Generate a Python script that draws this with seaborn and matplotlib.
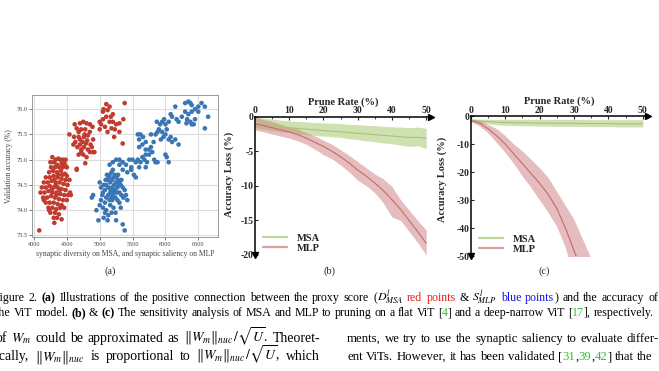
import matplotlib
matplotlib.use("Agg")
import matplotlib.pyplot as plt
import pandas as pd
import seaborn as sns

# ---- (a) scatter: proxy score vs validation accuracy ----
red_pts = [
    # top-right red group
    (5100, 76.1), (5150, 76.05), (5380, 76.12), (5050, 75.95), (5120, 75.98), (5200, 75.9),
    (5170, 75.85), (5100, 75.85), (5000, 75.75), (5020, 75.7), (5050, 75.8), (5150, 75.75),
    (5250, 75.7), (5300, 75.72), (5360, 75.8), (5180, 75.62), (5230, 75.6), (5300, 75.55),
    (5220, 75.45), (5000, 75.6), (5080, 75.65), (5120, 75.55), (5350, 75.32), (5200, 75.75),
    (5060, 76.0),
    # middle red group
    (4620, 75.7), (4700, 75.72), (4750, 75.75), (4800, 75.72), (4850, 75.7), (4890, 75.65),
    (4650, 75.62), (4720, 75.6), (4780, 75.6), (4850, 75.55), (4540, 75.5), (4610, 75.45),
    (4680, 75.45), (4760, 75.45), (4820, 75.48), (4900, 75.4), (4630, 75.35), (4700, 75.3),
    (4740, 75.35), (4790, 75.32), (4860, 75.3), (4660, 75.25), (4720, 75.2), (4760, 75.25),
    (4820, 75.2), (4900, 75.15), (4680, 75.1), (4750, 75.1), (4800, 75.05), (4850, 75.15),
    (4920, 75.15), (4700, 75.4), (4600, 75.3), (4780, 74.93), (4650, 74.8), (4720, 75.15),
    (4770, 75.5), (4680, 75.55), (4880, 75.25), (4810, 75.38),
    # dense lower-left red group
    (4280, 75.05), (4330, 75.0), (4370, 75.02), (4400, 75.0), (4440, 75.0), (4480, 75.0),
    (4300, 74.95), (4350, 74.9), (4420, 74.92), (4460, 74.95), (4260, 74.85), (4320, 74.85),
    (4380, 74.85), (4440, 74.85), (4500, 74.85), (4230, 74.75), (4290, 74.78), (4350, 74.75),
    (4410, 74.78), (4470, 74.72), (4180, 74.65), (4240, 74.65), (4300, 74.68), (4360, 74.65),
    (4420, 74.62), (4480, 74.6), (4540, 74.6), (4150, 74.55), (4210, 74.55), (4270, 74.58),
    (4330, 74.55), (4390, 74.55), (4450, 74.52), (4510, 74.5), (4120, 74.45), (4180, 74.45),
    (4240, 74.48), (4300, 74.45), (4360, 74.45), (4420, 74.42), (4480, 74.4), (4550, 74.35),
    (4100, 74.35), (4160, 74.35), (4220, 74.38), (4280, 74.35), (4340, 74.35), (4400, 74.32),
    (4460, 74.3), (4520, 74.3), (4140, 74.25), (4200, 74.25), (4260, 74.28), (4320, 74.25),
    (4380, 74.22), (4440, 74.2), (4500, 74.2), (4180, 74.15), (4240, 74.15), (4300, 74.15),
    (4360, 74.12), (4420, 74.1), (4220, 74.05), (4280, 74.05), (4340, 74.02), (4400, 74.05),
    (4460, 74.05), (4250, 73.95), (4320, 73.95), (4380, 73.92), (4300, 73.85), (4350, 73.85),
    (4310, 73.75), (4420, 73.82), (4230, 74.0), (4330, 74.5), (4370, 74.7), (4270, 74.4),
    (4390, 74.4), (4310, 74.6), (4250, 74.95), (4470, 74.9), (4150, 74.2), (4430, 74.7),
    (4500, 74.68), (4340, 74.3), (4080, 73.6), (4650, 74.82), (4560, 74.3),
]

blue_pts = [
    # dense lower blue group
    (4880, 74.25), (4900, 74.3), (4950, 74.0), (4980, 73.8), (5000, 74.1), (5020, 74.2),
    (5050, 74.35), (5080, 74.4), (5100, 74.5), (5120, 74.6), (5150, 74.7), (5180, 74.75),
    (5200, 74.8), (5230, 74.7), (5250, 74.65), (5280, 74.6), (5300, 74.55), (5320, 74.5),
    (5350, 74.45), (5380, 74.4), (5050, 74.05), (5080, 74.15), (5100, 74.25), (5130, 74.3),
    (5160, 74.35), (5190, 74.45), (5220, 74.5), (5250, 74.55), (5270, 74.45), (5300, 74.35),
    (5330, 74.3), (5360, 74.25), (5400, 74.3), (5060, 74.5), (5090, 74.6), (5130, 74.45),
    (5160, 74.55), (5190, 74.6), (5220, 74.35), (5240, 74.25), (5270, 74.2), (5300, 74.15),
    (5100, 74.0), (5130, 73.9), (5160, 74.1), (5190, 74.2), (5210, 74.05), (5240, 73.95),
    (5060, 73.85), (5120, 73.8), (5180, 73.95), (5150, 74.2), (5200, 74.3), (5230, 74.4),
    (5260, 74.35), (5020, 74.45), (5040, 74.3), (5110, 74.7), (5170, 74.4), (5280, 74.7),
    (5330, 74.6), (5350, 73.72), (5380, 73.6), (5250, 73.8), (5420, 74.2), (5000, 74.55),
    (5080, 73.95), (5210, 74.65), (5290, 74.5), (5320, 74.05), (5140, 74.65), (5180, 74.25),
    # diagonal band
    (5150, 74.9), (5200, 74.95), (5250, 75.0), (5300, 75.0), (5350, 74.95), (5400, 74.9),
    (5450, 75.0), (5500, 75.0), (5550, 74.95), (5580, 75.0), (5600, 74.85), (5420, 74.75),
    (5480, 74.8), (5520, 74.7), (5620, 74.95), (5650, 75.05), (5680, 75.0), (5700, 75.1),
    (5720, 74.95), (5750, 75.1), (5600, 75.25), (5650, 75.3), (5700, 75.35), (5750, 75.2),
    (5780, 75.25), (5800, 75.15), (5830, 75.0), (5850, 74.95), (5880, 74.95), (5600, 75.4),
    (5620, 75.5), (5580, 75.5), (5660, 75.45), (5700, 75.2), (5780, 75.5), (5820, 75.35),
    (5850, 75.5), (5880, 75.55), (5900, 75.6), (5920, 75.7), (5950, 75.75), (5980, 75.8),
    (6000, 75.7), (6050, 75.75), (6020, 75.6), (5950, 75.55), (5970, 75.45), (6000, 75.5),
    (6050, 75.4), (6080, 75.45), (6100, 75.35), (6150, 75.4), (6000, 75.1), (6020, 75.05),
    (6050, 74.95), (6200, 75.3), (6080, 75.9), (6100, 75.85), (5350, 74.8), (5480, 74.85),
    (5550, 74.65), (5300, 74.9), (5700, 74.85), (5870, 75.75), (5930, 75.4),
    # top-right blue group
    (6150, 76.05), (6300, 76.12), (6350, 76.15), (6380, 76.12), (6400, 76.08), (6450, 76.0),
    (6500, 76.05), (6550, 76.12), (6600, 76.05), (6300, 75.95), (6350, 75.9), (6400, 75.95),
    (6250, 75.85), (6330, 75.8), (6380, 75.75), (6450, 75.8), (6500, 75.95), (6320, 75.72),
    (6400, 75.7), (6430, 75.7), (6650, 75.85), (6600, 75.62), (6200, 75.75), (6170, 75.8),
]

# ---- (b) flat ViT ----
rate = [0, 2.5, 5, 7.5, 10, 12.5, 15, 17.5, 20, 22.5, 25, 27.5, 30, 32.5, 35, 37.5, 40, 42.5, 45, 47.5, 50]
b_msa = [-1.0, -1.15, -1.3, -1.45, -1.6, -1.7, -1.8, -1.9, -2.0, -2.1, -2.2, -2.3, -2.4, -2.5, -2.6, -2.7, -2.8, -2.9, -3.0, -3.0, -3.1]
b_msa_hi = [0.0, -0.2, -0.35, -0.5, -0.6, -0.7, -0.75, -0.85, -0.9, -0.95, -1.0, -1.1, -1.15, -1.25, -1.3, -1.4, -1.45, -1.5, -1.6, -1.5, -1.7]
b_msa_lo = [-1.6, -1.8, -2.0, -2.2, -2.3, -2.5, -2.6, -2.7, -2.8, -2.9, -3.0, -3.2, -3.3, -3.5, -3.6, -3.8, -3.9, -4.1, -4.3, -4.2, -4.6]
b_mlp = [-1.0, -1.3, -1.6, -1.9, -2.2, -2.6, -3.1, -3.7, -4.3, -5.0, -5.8, -6.7, -7.7, -8.6, -9.6, -10.7, -12.0, -13.4, -15.0, -16.6, -18.3]
b_mlp_hi = [-0.1, -0.4, -0.7, -1.1, -1.45, -1.8, -2.3, -2.8, -3.4, -4.0, -4.8, -5.6, -6.5, -7.4, -8.3, -9.0, -10.1, -12.0, -13.5, -15.0, -16.4]
b_mlp_lo = [-1.9, -2.2, -2.5, -2.8, -3.1, -3.5, -4.0, -4.7, -5.5, -6.1, -7.0, -8.0, -9.2, -10.0, -11.0, -12.5, -14.5, -15.0, -16.6, -18.2, -20.0]

# ---- (c) deep-narrow ViT ----
c_msa = [-1.5, -1.8, -2.0, -2.2, -2.3, -2.4, -2.4, -2.5, -2.5, -2.5, -2.6, -2.6, -2.6, -2.7, -2.7, -2.7, -2.7, -2.8, -2.8, -2.8, -2.8]
c_msa_hi = [-1.0, -1.1, -1.2, -1.2, -1.2, -1.2, -1.2, -1.2, -1.2, -1.2, -1.2, -1.2, -1.2, -1.2, -1.3, -1.3, -1.3, -1.3, -1.3, -1.3, -1.3]
c_msa_lo = [-2.0, -2.5, -2.8, -3.1, -3.3, -3.4, -3.5, -3.5, -3.6, -3.6, -3.7, -3.7, -3.7, -3.8, -3.8, -3.8, -3.8, -3.9, -3.9, -3.9, -3.9]
c_rate = [0, 2.5, 5, 7.5, 10, 12.5, 15, 17.5, 20, 22.5, 25, 27.5, 30, 32.5, 35]
c_mlp = [-1.5, -2.5, -4.5, -7.0, -10.0, -13.5, -17.0, -20.5, -24.0, -28.0, -33.0, -40.0, -48.0, -56.0, -64.0]
c_mlp_hi = [-1.0, -1.5, -3.0, -4.5, -7.0, -10.0, -12.5, -15.5, -18.5, -22.0, -27.0, -32.0, -37.0, -44.0, -51.0]
c_mlp_lo = [-2.0, -3.5, -6.0, -9.5, -13.0, -17.0, -21.5, -25.5, -30.0, -34.5, -39.5, -47.0, -58.0, -66.0, -75.0]

RED = "#c23b2f"
BLUE = "#3a76b4"
G_FILL, G_LINE = "#bfd797", "#a6c479"
R_FILL, R_LINE = "#cf7c7e", "#c46a6a"

sns.set_style("whitegrid")
plt.rcParams["font.family"] = ["Liberation Serif", "DejaVu Serif"]
plt.rcParams["mathtext.fontset"] = "stix"

W, H = 659, 371
fig = plt.figure(figsize=(W / 100, H / 100), dpi=100)


def px_rect(x0, y0, x1, y1):
    return [x0 / W, 1 - y1 / H, (x1 - x0) / W, (y1 - y0) / H]


# (a)
ax = fig.add_axes(px_rect(32, 95, 218, 237))
df_a = pd.DataFrame(
    [(x, y, "MSA") for x, y in red_pts] + [(x, y, "MLP") for x, y in blue_pts],
    columns=["score", "acc", "part"],
)
sns.scatterplot(data=df_a, x="score", y="acc", hue="part", palette={"MSA": RED, "MLP": BLUE},
                s=11, linewidth=0, legend=False, ax=ax)
ax.set_xlim(3970, 6800)
ax.set_ylim(73.47, 76.28)
ax.set_xticks([4000, 4500, 5000, 5500, 6000, 6500])
ax.set_yticks([73.5, 74.0, 74.5, 75.0, 75.5, 76.0])
ax.set_yticklabels(["73.5", "74.0", "74.5", "75.0", "75.5", "76.0"])
ax.tick_params(labelsize=4.5, colors="#444", length=2, width=0.5, pad=1.5, bottom=True, left=True)
ax.grid(color="#dddddd", lw=0.8)
for s in ax.spines.values():
    s.set_color("#999")
    s.set_linewidth(0.7)
ax.set_xlabel("synaptic diversity on MSA, and synaptic saliency on MLP", fontsize=5.5, color="#444", labelpad=2)
ax.set_ylabel("Validation accuracy (%)", fontsize=5.5, color="#444", labelpad=2)


def prune_panel(rect, xmax, ylo, yticks, rate_mlp, msa, msa_lo, msa_hi, mlp, mlp_lo, mlp_hi):
    ax = fig.add_axes(rect)
    ax.set_facecolor("none")
    ax.grid(False)
    ax.fill_between(rate, msa_lo, msa_hi, color=G_FILL, alpha=0.75, lw=0)
    ax.fill_between(rate_mlp, mlp_lo, mlp_hi, color=R_FILL, alpha=0.5, lw=0)
    sns.lineplot(x=rate, y=msa, color=G_LINE, lw=0.8, ax=ax)
    sns.lineplot(x=rate_mlp, y=mlp, color=R_LINE, lw=0.8, ax=ax)
    ax.set_xlim(0, xmax)
    ax.set_ylim(ylo, 0)
    for side in ["right", "bottom"]:
        ax.spines[side].set_visible(False)
    for side in ["top", "left"]:
        ax.spines[side].set_color("black")
        ax.spines[side].set_linewidth(1.1)
    ax.plot(1, 1, ">k", ms=4.5, transform=ax.transAxes, clip_on=False)
    ax.plot(0, 0, "vk", ms=4.5, transform=ax.transAxes, clip_on=False)
    ax.xaxis.tick_top()
    ax.xaxis.set_label_position("top")
    ax.set_xticks([0, 10, 20, 30, 40, 50])
    ax.set_xticks([5, 15, 25, 35, 45], minor=True)
    ax.set_yticks(yticks)
    ax.set_yticklabels([str(t) for t in yticks])
    ax.tick_params(axis="both", which="major", direction="in", length=2.5, width=0.8,
                   labelsize=7, pad=1, top=True, left=True, bottom=False)
    ax.tick_params(axis="x", which="minor", direction="in", length=1.5, width=0.6, top=True, bottom=False)
    for lab in ax.get_xticklabels() + ax.get_yticklabels():
        lab.set_fontweight("bold")
    ax.set_xlabel("Prune Rate (%)", fontsize=7.5, fontweight="bold", labelpad=1)
    ax.set_ylabel("Accuracy Loss (%)", fontsize=7.5, fontweight="bold", labelpad=1)
    h1, = ax.plot([], [], color=G_FILL, lw=1.6)
    h2, = ax.plot([], [], color="#daa0a0", lw=1.6)
    ax.legend([h1, h2], ["MSA", "MLP"], loc="lower left", bbox_to_anchor=(-0.005, -0.05),
              frameon=False, handlelength=2.3, handletextpad=0.9, labelspacing=0.05,
              prop={"weight": "bold", "size": 7.5})
    return ax


ax_b = prune_panel(px_rect(255, 116.7, 431, 255), 51.4, -20, [0, -5, -10, -15, -20],
                   rate, b_msa, b_msa_lo, b_msa_hi, b_mlp, b_mlp_lo, b_mlp_hi)
ax_c = prune_panel(px_rect(470.7, 116, 648, 256), 51.5, -50, [0, -10, -20, -30, -40, -50],
                   c_rate, c_msa, c_msa_lo, c_msa_hi, c_mlp, c_mlp_lo, c_mlp_hi)
ax_b.yaxis.set_label_coords(-0.12, 0.58)
ax_c.yaxis.set_label_coords(-0.135, 0.55)

# sub-figure letters
for x, lab in [(110, "(a)"), (330, "(b)"), (544, "(c)")]:
    fig.text(x / W, 1 - 271 / H, lab, fontsize=7.5, ha="center", va="center")

# caption and body text, laid out word by word (justified like the paper)
renderer = fig.canvas.get_renderer()
K, RD, BL, GR = "black", "#ee1c1c", "#1111ee", "#2fc22f"


def words(s, color=K, weight="normal"):
    return [[(w, color, weight)] for w in s.split()]


def text_line(x0, y, line, size, x1):
    placed = []
    for word in line:
        pieces, width = [], 0.0
        for s, color, weight in word:
            t = fig.text(0, 1 - y / H, s, color=color, fontweight=weight, fontsize=size,
                         ha="left", va="baseline")
            pieces.append((t, width))
            width += t.get_window_extent(renderer).width
        placed.append((pieces, width))
    total = sum(w for _, w in placed)
    gap = (x1 - x0 - total) / (len(placed) - 1)
    x = x0
    for pieces, width in placed:
        for t, off in pieces:
            t.set_x((x + off) / W)
        x += width + gap


cap1 = (words("Figure 2.") + words("(a)", weight="bold")
        + words("Illustrations of the positive connection between the proxy score")
        + [[("(", K, "normal"), (r"$D^{l}_{MSA}$", K, "normal")]] + words("red points", RD)
        + words("&") + [[(r"$S^{l}_{MLP}$", K, "normal")]] + words("blue", BL)
        + [[("points", BL, "normal"), (")", K, "normal")]] + words("and the accuracy of"))
cap2 = (words("the ViT model.") + words("(b)", weight="bold") + words("&") + words("(c)", weight="bold")
        + words("The sensitivity analysis of MSA and MLP to pruning on a flat ViT")
        + [[("[", K, "normal"), ("4", GR, "normal"), ("]", K, "normal")]]
        + words("and a deep-narrow ViT")
        + [[("[", K, "normal"), ("17", GR, "normal"), ("],", K, "normal")]] + words("respectively."))
body1 = (words("of") + [[(r"$W_m$", K, "normal")]] + words("could be approximated as")
         + [[(r"$\|W_m\|_{nuc}\,/\sqrt{U}$.", K, "normal")]] + words("Theoret-"))
body2 = (words("ically,") + [[(r"$\|W_m\|_{nuc}$", K, "normal")]] + words("is proportional to")
         + [[(r"$\|W_m\|_{nuc}\,/\sqrt{U}$,", K, "normal")]] + words("which"))
body3 = words("ments, we try to use the synaptic saliency to evaluate differ-")
body4 = (words("ent ViTs. However, it has been validated")
         + [[("[", K, "normal"), ("31", GR, "normal"), (",", K, "normal"), ("39", GR, "normal"),
             (",", K, "normal"), ("42", GR, "normal"), ("]", K, "normal")]] + words("that the"))

text_line(-6, 301, cap1, 8.6, 658)
text_line(-4, 316, cap2, 8.6, 654)
text_line(-5, 342, body1, 9.9, 320)
text_line(-4, 360, body2, 9.9, 320)
text_line(347, 342, body3, 9.2, 659)
text_line(347, 360, body4, 9.2, 653)

fig.savefig("out.png", dpi=100)
